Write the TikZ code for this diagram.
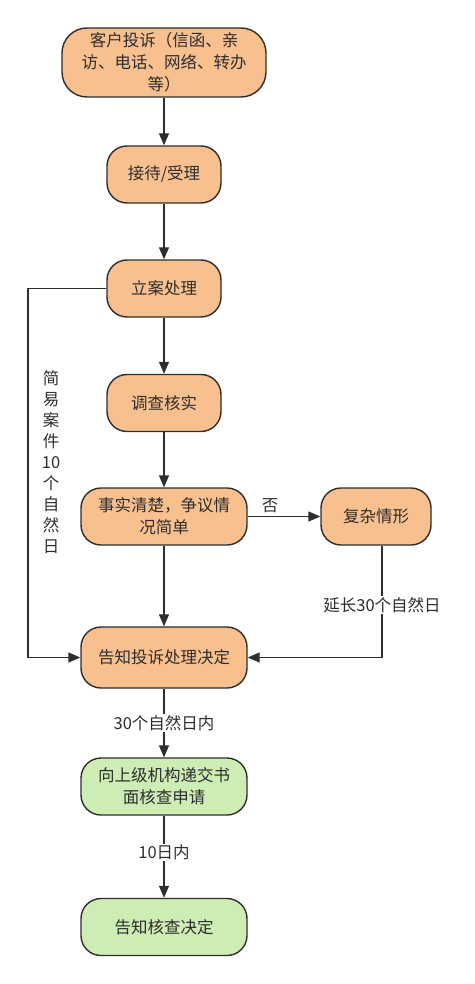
\documentclass[tikz,border=0pt]{standalone}
\usepackage{fontspec}
\setmainfont{Noto Sans CJK SC}
\usetikzlibrary{arrows.meta}
\definecolor{orfill}{HTML}{F8C08E}
\definecolor{grfill}{HTML}{CDEDB5}
\definecolor{ink}{HTML}{2E2E2E}
\begin{document}
\begin{tikzpicture}[x=1pt,y=-1pt,
  box/.style={draw=ink, line width=1.4pt, rounded corners=20pt, inner sep=0pt, align=center,
    text=ink, font=\fontsize{16.5}{22}\selectfont, minimum height=57pt},
  orbox/.style={box, fill=orfill},
  grbox/.style={box, fill=grfill},
  conn/.style={draw=ink, line width=1.4pt, -{Triangle[width=10pt,length=12pt]}},
  lbl/.style={text=ink, font=\fontsize{16.5}{21}\selectfont, inner sep=1pt, fill=white, align=center}
]
\useasboundingbox (0,0) rectangle (474,984);
\node[orbox, minimum width=204pt, minimum height=69pt, rounded corners=25pt] (n1) at (164,62.5)
  {客户投诉（信函、亲\\访、电话、网络、转办\\等）};
\node[orbox, minimum width=114pt] (n2) at (164,174.5) {接待/受理};
\node[orbox, minimum width=114pt] (n3) at (164,288.5) {立案处理};
\node[orbox, minimum width=114pt] (n4) at (164,403) {调查核实};
\node[orbox, minimum width=166pt] (n5) at (164,516.5) {事实清楚，争议情\\况简单};
\node[orbox, minimum width=110pt] (n6) at (376,516.5) {复杂情形};
\node[orbox, minimum width=166pt, minimum height=61pt] (n7) at (164,657.5) {告知投诉处理决定};
\node[grbox, minimum width=166pt] (n8) at (164,786.5) {向上级机构递交书\\面核查申请};
\node[grbox, minimum width=166pt] (n9) at (164,927) {告知核查决定};
\coordinate (lt) at (28,288.5);
\coordinate (lb) at (28,657.5);
\coordinate (rb) at (382,657.5);
\draw[conn] (n1) -- (n2);
\draw[conn] (n2) -- (n3);
\draw[conn] (n3) -- (n4);
\draw[conn] (n4) -- (n5);
\draw[conn] (n5) -- (n7);
\draw[conn] (n5) -- node[pos=0.31, above, lbl, fill=none, yshift=2pt] (no) {否} (n6);
\draw[conn] (n3.west) -- (lt) -- (lb) -- (n7.west);
\node[lbl, fill=none] (vl) at (51,462) {简\\易\\案\\件\\10\\个\\自\\然\\日};
\draw[conn] (n6.south -| rb) -- (rb) -- (n7.east);
\node[lbl] (ext) at (382,605) {延长30个自然日};
\draw[conn] (n7) -- node[lbl, pos=0.5] (l30) {30个自然日内} (n8);
\draw[conn] (n8) -- node[lbl, pos=0.45] (l10) {10日内} (n9);
\end{tikzpicture}
\end{document}
